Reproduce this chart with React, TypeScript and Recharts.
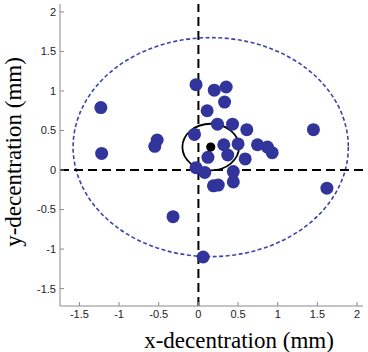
import React from 'react';
import { ScatterChart, Scatter, XAxis, YAxis, ReferenceLine, ReferenceArea } from 'recharts';

const pointX = [-0.03, 0.20, 0.35, 0.33, 0.11, -1.23, 0.24, 0.43, 0.61, 1.45, -0.05, -0.52, -0.55, -1.22, 0.32, 0.50, 0.745, 0.87, 0.93, 0.12, 0.37, 0.59, -0.03, 0.08, 0.44, 0.44, 0.19, 0.25, 1.62, -0.32, 0.06];
const pointY = [1.08, 1.01, 1.05, 0.86, 0.75, 0.79, 0.58, 0.58, 0.51, 0.51, 0.45, 0.38, 0.30, 0.21, 0.32, 0.33, 0.32, 0.29, 0.22, 0.16, 0.19, 0.14, 0.03, -0.03, -0.02, -0.15, -0.20, -0.19, -0.23, -0.59, -1.10];
const meanPoint = { x: 0.155, y: 0.29 };
const innerRadii = { rx: 0.357, ry: 0.295 };
const outerRadii = { rx: 1.735, ry: 1.385 };
const xTicks = [-1.5, -1, -0.5, 0, 0.5, 1, 1.5, 2];
const yTicks = [-1.5, -1, -0.5, 0, 0.5, 1, 1.5, 2];
const xDomain = [-1.745, 2.075];
const yDomain = [-1.72, 2.1];

const points = pointX.map((x, i) => ({ x, y: pointY[i] }));
const BLUE = '#31349a';
const AXIS = '#8a8a8a';
const tickStyle = { fontFamily: 'Liberation Sans, Arial, sans-serif', fontSize: 11, fill: '#222' };

const ellipseShape = (stroke: string, width: number, dash?: string) => (p: any) => (
  <ellipse
    cx={p.x + p.width / 2}
    cy={p.y + p.height / 2}
    rx={Math.abs(p.width / 2)}
    ry={Math.abs(p.height / 2)}
    fill="none"
    stroke={stroke}
    strokeWidth={width}
    strokeDasharray={dash}
  />
);

export default function App() {
  return (
    <div style={{ position: 'absolute', left: 0, top: 0 }}>
      <ScatterChart width={368} height={352} margin={{ top: 4, right: 5, left: 0, bottom: 0 }}>
        <XAxis
          type="number"
          dataKey="x"
          domain={xDomain}
          ticks={xTicks}
          allowDataOverflow
          height={46}
          stroke={AXIS}
          tickSize={-4}
          tickMargin={8}
          tick={tickStyle}
          tickFormatter={(v: number) => String(v)}
          label={{
            content: () => (
              <text x={239} y={348} textAnchor="middle" style={{ fontFamily: 'Liberation Serif, Times New Roman, serif', fontSize: 23, fill: '#000' }}>
                x-decentration (mm)
              </text>
            ),
          }}
        />
        <XAxis xAxisId="top" type="number" dataKey="x" orientation="top" domain={xDomain} ticks={xTicks} allowDataOverflow height={0} mirror stroke={AXIS} tickSize={4} tick={false} />
        <YAxis
          type="number"
          dataKey="y"
          domain={yDomain}
          ticks={yTicks}
          allowDataOverflow
          width={60}
          stroke={AXIS}
          tickSize={-4}
          tickMargin={8}
          tick={tickStyle}
          tickFormatter={(v: number) => String(v)}
          label={{
            content: () => (
              <text x={21} y={152} transform="rotate(-90 21 152)" textAnchor="middle" style={{ fontFamily: 'Liberation Serif, Times New Roman, serif', fontSize: 23, fill: '#000' }}>
                y-decentration (mm)
              </text>
            ),
          }}
        />
        <YAxis yAxisId="right" type="number" dataKey="y" orientation="right" domain={yDomain} ticks={yTicks} allowDataOverflow width={0} mirror stroke={AXIS} tickSize={4} tick={false} />
        <ReferenceArea
          x1={meanPoint.x - outerRadii.rx}
          x2={meanPoint.x + outerRadii.rx}
          y1={meanPoint.y - outerRadii.ry}
          y2={meanPoint.y + outerRadii.ry}
          ifOverflow="visible"
          shape={ellipseShape('#3b44a8', 1.6, '4 2.5')}
        />
        <ReferenceLine x={0} stroke="#000" strokeWidth={2} strokeDasharray="9 5" />
        <ReferenceLine y={0} stroke="#000" strokeWidth={2} strokeDasharray="9 5" />
        <ReferenceArea
          x1={meanPoint.x - innerRadii.rx}
          x2={meanPoint.x + innerRadii.rx}
          y1={meanPoint.y - innerRadii.ry}
          y2={meanPoint.y + innerRadii.ry}
          ifOverflow="visible"
          shape={ellipseShape('#000', 1.8)}
        />
        <Scatter
          data={points}
          isAnimationActive={false}
          shape={(p: any) => <circle cx={p.cx} cy={p.cy} r={6.5} fill={BLUE} />}
        />
        <Scatter
          data={[meanPoint]}
          isAnimationActive={false}
          shape={(p: any) => <circle cx={p.cx} cy={p.cy} r={4.6} fill="#000" />}
        />
      </ScatterChart>
    </div>
  );
}
